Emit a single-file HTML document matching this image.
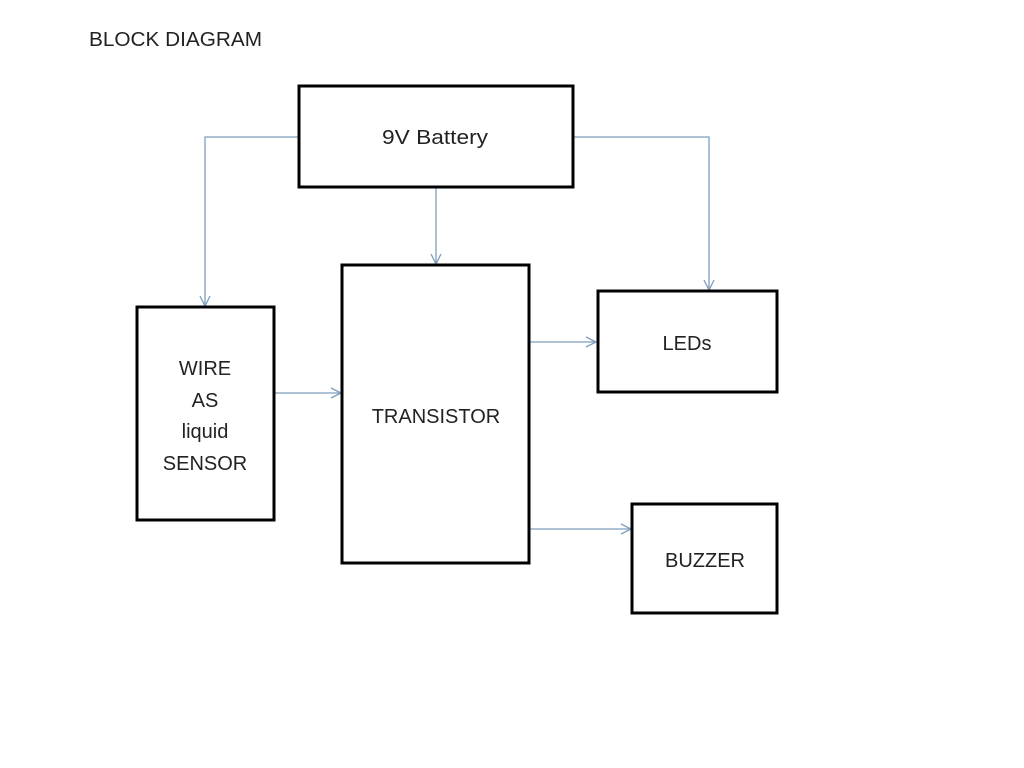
<!DOCTYPE html>
<html>
<head>
<meta charset="utf-8">
<style>
  html, body { margin: 0; padding: 0; background: #ffffff; }
  body { width: 1024px; height: 768px; overflow: hidden; }
  svg { display: block; }
  text { font-family: "Liberation Sans", "DejaVu Sans", sans-serif; fill: #222222; }
</style>
</head>
<body>
<svg width="1024" height="768" viewBox="0 0 1024 768" xmlns="http://www.w3.org/2000/svg">
  <rect x="0" y="0" width="1024" height="768" fill="#ffffff"/>

  <!-- Title -->
  <text x="89" y="46" font-size="20" textLength="173" lengthAdjust="spacingAndGlyphs">BLOCK DIAGRAM</text>

  <!-- Connectors -->
  <g stroke="#7d9dbd" stroke-width="1.3" fill="none">
    <!-- battery left -> sensor -->
    <polyline points="298,137 205,137 205,306"/>
    <polyline points="200,296 205,306 210,296"/>
    <!-- battery right -> LEDs -->
    <polyline points="573,137 709,137 709,290"/>
    <polyline points="704,280 709,290 714,280"/>
    <!-- battery down -> transistor -->
    <line x1="436" y1="188" x2="436" y2="264"/>
    <polyline points="431,254 436,264 441,254"/>
    <!-- sensor -> transistor -->
    <line x1="274" y1="393" x2="341" y2="393"/>
    <polyline points="331,388 341,393 331,398"/>
    <!-- transistor -> LEDs -->
    <line x1="529" y1="342" x2="596" y2="342"/>
    <polyline points="586,337 596,342 586,347"/>
    <!-- transistor -> buzzer -->
    <line x1="529" y1="529" x2="631" y2="529"/>
    <polyline points="621,524 631,529 621,534"/>
  </g>

  <!-- Boxes -->
  <g stroke="#000000" stroke-width="3" fill="none">
    <rect x="299" y="86" width="274" height="101"/>
    <rect x="342" y="265" width="187" height="298"/>
    <rect x="137" y="307" width="137" height="213"/>
    <rect x="598" y="291" width="179" height="101"/>
    <rect x="632" y="504" width="145" height="109"/>
  </g>

  <!-- Labels -->
  <g font-size="20" text-anchor="middle">
    <text x="435" y="144" textLength="106" lengthAdjust="spacingAndGlyphs">9V Battery</text>
    <text x="436" y="423">TRANSISTOR</text>
    <text x="205" y="375">WIRE</text>
    <text x="205" y="407">AS</text>
    <text x="205" y="438">liquid</text>
    <text x="205" y="470">SENSOR</text>
    <text x="687" y="350">LEDs</text>
    <text x="705" y="567">BUZZER</text>
  </g>
</svg>
</body>
</html>
